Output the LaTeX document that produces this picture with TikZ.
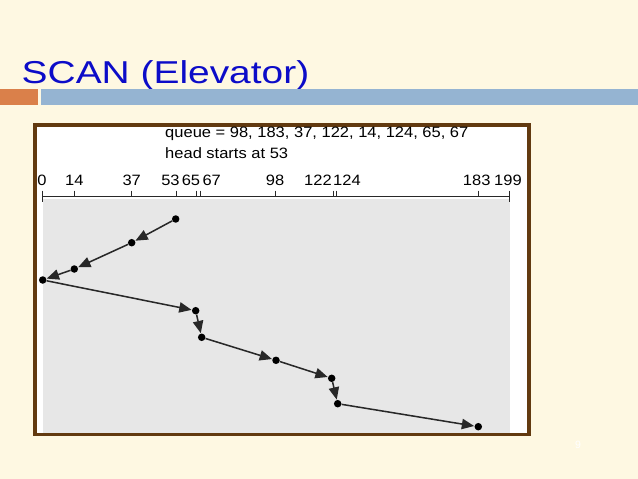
\documentclass[tikz,border=0pt]{standalone}
\usepackage{fontspec}
\setmainfont{Liberation Sans}
\usetikzlibrary{arrows.meta}
\definecolor{slidebg}{RGB}{254,248,226}
\definecolor{titleblue}{RGB}{12,12,200}
\definecolor{barorange}{RGB}{218,128,74}
\definecolor{barblue}{RGB}{149,180,210}
\definecolor{framebrown}{RGB}{98,58,16}
\definecolor{panelgray}{RGB}{231,231,231}
\definecolor{seekline}{RGB}{40,40,40}
\newcommand{\widetext}[2]{\scalebox{#1}[1]{#2}}
\tikzset{
	stop/.style={circle, fill=black, inner sep=0pt, minimum size=6.4pt},
	seek/.style={seekline, line width=1.3pt, -{Triangle[length=10.5pt, width=8.8pt]}, shorten >=0.2pt},
	tick label/.style={font=\fontsize{12.8}{15}\selectfont, inner sep=0pt}
}
\begin{document}
\begin{tikzpicture}[x=0.03cm, y=-0.03cm]
	% Slide background and title
	\useasboundingbox (0,0) rectangle (638,479);
	\fill[slidebg] (0,0) rectangle (638,479);
	\node[anchor=base west, inner sep=0pt, text=titleblue, font=\fontsize{27}{30}\selectfont] (title) at (21.5,83.5) {\widetext{1.23}{SCAN (Elevator)}};
	\fill[barorange] (0,89) rectangle (37.5,105.5);
	\fill[barblue] (41,89) rectangle (638,105.5);
	% Draw the frame and the panel
	\draw[framebrown, line width=3.4pt, fill=white] (34.7,124.7) rectangle (528.7,434.5);
	\fill[panelgray] (42.5,198.5) rectangle (510,432.5);
	% Add the queue text
	\node[anchor=north west, inner sep=0pt, align=left, font=\fontsize{12.8}{18}\selectfont] (queue) at (165,127) {\widetext{1.1}{queue = 98, 183, 37, 122, 14, 124, 65, 67}\\\widetext{1.1}{head starts at 53}};
	% Draw the axis
	\draw[seekline, line width=0.8pt] (42.7,196.7) -- (509,196.7);
	\draw[seekline, line width=0.8pt] (42.7,190.7) -- (42.7,202);
	\draw[seekline, line width=0.8pt] (509,190.7) -- (509,202);
	\foreach \x in {74.3,131.7,176,196.7,200.7,275,333.3,336,478} {
		\draw[seekline, line width=0.8pt] (\x,190.7) -- (\x,196.7);
	}
	% Add the axis labels
	\foreach \v/\x in {0/42,14/74.3,37/131.7,53/170.5,65/191,67/211.7,98/275,122/318,124/347,183/476.7,199/508} {
		\node[tick label] (l\v) at (\x,180.5) {\widetext{1.1}{\v}};
	}
	% Draw the head stops
	\node[stop] (t53) at (175.7,219) {};
	\node[stop] (t37) at (131.7,242.7) {};
	\node[stop] (t14) at (74.3,269) {};
	\node[stop] (t0) at (42.7,280) {};
	\node[stop] (t65) at (195.7,310.7) {};
	\node[stop] (t67) at (201.7,337.3) {};
	\node[stop] (t98) at (276,360.3) {};
	\node[stop] (t122) at (331.7,378.3) {};
	\node[stop] (t124) at (337.7,403.7) {};
	\node[stop] (t183) at (478.3,426.7) {};
	% Draw the head movement
	\draw[seek] (t53) -- (t37);
	\draw[seek] (t37) -- (t14);
	\draw[seek] (t14) -- (t0);
	\draw[seek] (t0) -- (t65);
	\draw[seek] (t65) -- (t67);
	\draw[seek] (t67) -- (t98);
	\draw[seek] (t98) -- (t122);
	\draw[seek] (t122) -- (t124);
	\draw[seek] (t124) -- (t183);
	% Page number
	\node[white, font=\fontsize{9}{10}\selectfont] (page) at (578,445) {9};
\end{tikzpicture}
\end{document}
